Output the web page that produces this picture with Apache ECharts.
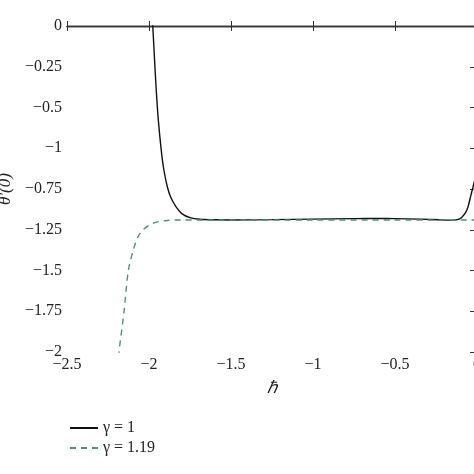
<!DOCTYPE html>
<html>
<head>
<meta charset="UTF-8">
<title></title>
<script src="https://cdn.jsdelivr.net/npm/echarts@6/dist/echarts.min.js"></script>
</head>
<body style="margin:0;background:#fff;">
<div id="container" style="width:474px;height:474px;"></div>
<script type="text/javascript">
// γ = 1 curve (solid black)
var g1X = [-1.98, -1.977, -1.967, -1.957, -1.943, -1.923, -1.909, -1.888, -1.868, -1.835, -1.8, -1.75, -1.689, -1.6, -1.5, -1.25, -1.0, -0.75, -0.6, -0.5, -0.35, -0.2, -0.15, -0.12, -0.1, -0.085, -0.07, -0.055, -0.04, -0.025, -0.01, 0];
var g1Y = [0.05, 0, -0.19, -0.374, -0.579, -0.783, -0.885, -0.988, -1.049, -1.11, -1.151, -1.176, -1.186, -1.189, -1.19, -1.188, -1.185, -1.182, -1.181, -1.182, -1.185, -1.19, -1.191, -1.188, -1.18, -1.165, -1.145, -1.11, -1.05, -0.99, -0.93, -0.89];
// γ = 1.19 curve (dashed green)
var g2X = [-2.19, -2.183, -2.152, -2.126, -2.096, -2.07, -2.036, -1.976, -1.89, -1.8, -1.7, -1.5, -1.0, -0.5, 0];
var g2Y = [-2.1, -2.0, -1.75, -1.5, -1.376, -1.3, -1.25, -1.21, -1.193, -1.19, -1.19, -1.19, -1.19, -1.19, -1.19];
// y tick values and the labels printed beside them
var yTicks = [0, -0.25, -0.5, -0.75, -1, -1.25, -1.5, -1.75, -2];
var yLabels = ['0', '\u22120.25', '\u22120.5', '\u22121', '\u22120.75', '\u22121.25', '\u22121.5', '\u22121.75', '\u22122'];
var names = ['\u03b3 = 1', '\u03b3 = 1.19'];

function pairs(xs, ys) {
    var out = [];
    for (var i = 0; i < xs.length; i++) out.push([xs[i], ys[i]]);
    return out;
}

var font = 'Liberation Serif';
var axisCol = '#333';

var mychart = echarts.init(document.getElementById('container'));
var option = {
    animation: false,
    grid: { left: 67, top: 26, width: 410, height: 326, containLabel: false, outerBoundsMode: 'none' },
    legend: {
        orient: 'vertical',
        left: 64, top: 415,
        itemWidth: 28, itemHeight: 10, itemGap: 4,
        data: names,
        itemStyle: { color: 'rgba(0,0,0,0)', borderWidth: 0 },
        textStyle: { fontFamily: font, fontSize: 16, color: '#222' }
    },
    xAxis: [{
        type: 'value', min: -2.5, max: 0, interval: 0.5, position: 'bottom',
        name: '\u210f', nameLocation: 'middle', nameGap: 28,
        nameTextStyle: { fontFamily: font, fontSize: 17, fontStyle: 'italic', color: '#222' },
        axisLine: { lineStyle: { color: axisCol, width: 1.3 } },
        axisTick: { inside: true, length: 5, lineStyle: { color: axisCol } },
        axisLabel: { fontFamily: font, fontSize: 16, color: '#222', margin: 5,
            formatter: function (v) { return String(v).replace('-', '\u2212'); } },
        splitLine: { show: false }
    }, {
        type: 'value', min: -2.5, max: 0, interval: 0.5, position: 'top',
        axisLine: { lineStyle: { color: axisCol, width: 1.3 } },
        axisTick: { inside: true, length: 5, lineStyle: { color: axisCol } },
        axisLabel: { show: false },
        splitLine: { show: false }
    }],
    yAxis: [{
        type: 'value', min: -2, max: 0, interval: 0.25, position: 'left',
        name: '\u03b8\u2032(0)', nameLocation: 'middle', nameGap: 52, nameRotate: 90,
        nameTextStyle: { fontFamily: font, fontSize: 17, fontStyle: 'italic', color: '#222' },
        axisLine: { lineStyle: { color: axisCol, width: 1.3 } },
        axisTick: { inside: true, length: 5, lineStyle: { color: axisCol } },
        axisLabel: { fontFamily: font, fontSize: 16, color: '#222', margin: 5,
            formatter: function (v) {
                for (var i = 0; i < yTicks.length; i++) {
                    if (Math.abs(yTicks[i] - v) < 1e-6) return yLabels[i];
                }
                return '';
            } },
        splitLine: { show: false }
    }, {
        type: 'value', min: -2, max: 0, interval: 0.25, position: 'right',
        axisLine: { lineStyle: { color: axisCol, width: 1.3 } },
        axisTick: { inside: true, length: 7, lineStyle: { color: axisCol } },
        axisLabel: { show: false },
        splitLine: { show: false }
    }],
    series: [{
        name: names[0], type: 'line', smooth: 0.3, symbol: 'none', clip: true,
        data: pairs(g1X, g1Y),
        lineStyle: { color: '#111', width: 1.4 },
        itemStyle: { color: '#111' }
    }, {
        name: names[1], type: 'line', smooth: 0.3, symbol: 'none', clip: true,
        data: pairs(g2X, g2Y),
        lineStyle: { color: '#4f8f7c', width: 1.4, type: [6, 5] },
        itemStyle: { color: '#4f8f7c' }
    }]
};
mychart.setOption(option);
</script>
</body>
</html>
